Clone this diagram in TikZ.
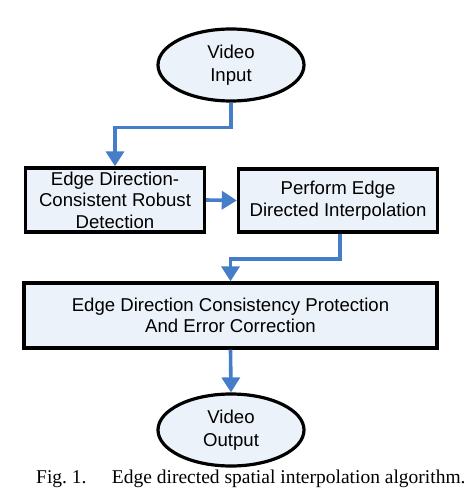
\documentclass[tikz,border=0pt]{standalone}
\usepackage{fontspec}
\setmainfont{Liberation Serif}
\newfontfamily\arialf{Liberation Sans}
\usetikzlibrary{arrows.meta,shapes.geometric}
\definecolor{boxfill}{RGB}{236,242,250}
\definecolor{arrowblue}{RGB}{70,125,200}
\tikzset{
  ell/.style={ellipse,draw=black,line width=3.2pt,fill=boxfill,minimum width=146pt,minimum height=72pt,inner sep=0pt,align=center,font=\arialf\fontsize{18.6}{23}\selectfont},
  box/.style={rectangle,draw=black,line width=3.4pt,fill=boxfill,inner sep=0pt,align=center,font=\arialf\fontsize{18.6}{21.5}\selectfont},
  conn/.style={draw=arrowblue,line width=3.6pt,-{Triangle[length=15pt,width=18pt]}}
}
\begin{document}
\begin{tikzpicture}[x=1pt,y=-1pt]
\useasboundingbox (0,0) rectangle (474,497);
\node[ell] (in) at (231,65) {Video\\Input};
\node[box,minimum width=179pt,minimum height=64pt] (b1) at (115,200) {Edge Direction-\\Consistent Robust\\Detection};
\node[box,minimum width=199pt,minimum height=63pt] (b2) at (338,200.5) {Perform Edge\\Directed Interpolation};
\node[box,minimum width=413pt,minimum height=65pt] (b3) at (230.5,315.5) {Edge Direction Consistency Protection\\And Error Correction};
\node[ell] (out) at (231,430) {Video\\Output};
\node[font=\fontsize{19.5}{22}\selectfont,anchor=base west,inner sep=0pt] (cap) at (36,483) {Fig.~1.\hspace{1.3em}Edge directed spatial interpolation algorithm.};
\draw[conn] (in.south) -- ++(0,25) -| (b1.north);
\draw[conn] (b1.east) -- (b2.west);
\draw[conn] ([xshift=2pt]b2.south) -- ++(0,25) -| (b3.north);
\draw[conn] (b3.south) -- (out.north);
\end{tikzpicture}
\end{document}
